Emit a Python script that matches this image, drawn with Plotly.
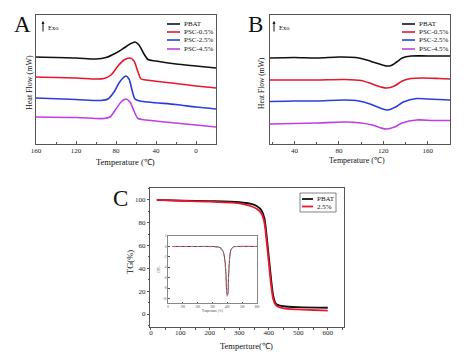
import plotly.graph_objects as go

W, H = 474, 358
FONT = "Liberation Serif"

# ---------------- Panel A : DSC cooling ----------------
a_pbat_T = [160, 120, 100, 90, 80, 72, 66, 61, 57, 52, 48, 40, 20, 0, -20]
a_pbat_v = [87, 86, 85, 86.5, 91, 96, 100, 102, 99, 90, 84.5, 83, 80, 78, 76]
a_05_T = [160, 120, 100, 92, 85, 78, 72, 66, 62, 58, 55, 50, 20, 0, -20]
a_05_v = [67, 66, 65, 65.5, 69, 78, 84, 86, 83, 72, 65, 64, 60.5, 58, 56]
a_25_T = [160, 120, 95, 88, 82, 77, 73, 70, 67, 64, 61, 56, 20, 0, -20]
a_25_v = [46, 44.5, 43.5, 45, 52, 61, 66, 68, 65, 54, 45, 43, 39.5, 37, 35]
a_45_T = [160, 120, 92, 86, 80, 75, 70, 66, 62, 58, 50, 20, 0, -20]
a_45_v = [27, 26.5, 25.5, 27, 35, 42, 45, 42, 33, 25.5, 24, 21, 19, 17]

# ---------------- Panel B : DSC heating ----------------
b_pbat_T = [18, 40, 60, 80, 95, 105, 115, 123, 127, 132, 137, 145, 160, 180]
b_pbat_v = [86, 86.5, 86, 87, 86.5, 84, 80.5, 78, 78.5, 82, 86, 88, 88, 88]
b_05_T = [18, 40, 60, 85, 100, 110, 118, 123, 130, 137, 145, 155, 170, 180]
b_05_v = [64, 64, 64, 64.5, 63.5, 60, 57, 56, 58, 63, 65.5, 66, 65.5, 65]
b_25_T = [18, 40, 60, 85, 98, 108, 117, 124, 131, 138, 150, 160, 180]
b_25_v = [42.5, 43, 43, 44, 43, 40, 36, 34, 37, 42, 45.5, 45, 44]
b_45_T = [18, 40, 60, 85, 100, 110, 118, 123, 130, 137, 150, 165, 180]
b_45_v = [20, 20.5, 21, 22, 21, 19, 16, 15, 17, 21, 24, 23.5, 23.5]

# ---------------- Panel C : TG ----------------
c_pbat_T = [20, 100, 200, 300, 340, 360, 375, 385, 392, 400, 408, 415, 422, 430, 450, 500, 600]
c_pbat_v = [100, 99.5, 99, 98, 96.5, 94.5, 91, 84, 70, 50, 30, 16, 10, 8, 6.8, 6, 5.5]
c_25_T = [20, 100, 200, 300, 340, 360, 375, 385, 392, 400, 408, 415, 422, 430, 450, 500, 600]
c_25_v = [100, 99.3, 98.5, 97, 94.5, 92, 88, 80, 65, 45, 25, 13, 8.5, 6.5, 5, 4, 3]

# inset DTG
d_T = [30, 100, 200, 300, 340, 360, 375, 385, 392, 398, 402, 408, 415, 425, 440, 470, 600]
d_pbat = [0, 0, 0, 0, -0.1, -0.4, -1.2, -3, -6, -9.2, -9.2, -6, -2.5, -0.6, -0.1, 0, 0]
d_25 = [0, 0, 0, -0.05, -0.2, -0.6, -1.5, -3.5, -6.5, -9.5, -9.4, -5.8, -2.2, -0.5, -0.1, 0, 0]

BLACK, RED, BLUE, MAG = "#111111", "#e8162e", "#2b3fd8", "#c13ee6"
names4 = ["PBAT", "PSC-0.5%", "PSC-2.5%", "PSC-4.5%"]
cols4 = [BLACK, RED, BLUE, MAG]

fig = go.Figure()

def add(x, y, col, xa, ya, name, width=1.6, dash=None, shape="spline"):
    fig.add_trace(go.Scatter(x=x, y=y, mode="lines", name=name, xaxis=xa, yaxis=ya,
                             line=dict(color=col, width=width, shape=shape, smoothing=0.8,
                                       dash=dash), showlegend=False))

for (T, v), c, n in zip([(a_pbat_T, a_pbat_v), (a_05_T, a_05_v), (a_25_T, a_25_v), (a_45_T, a_45_v)], cols4, names4):
    add(T, v, c, "x", "y", n)
for (T, v), c, n in zip([(b_pbat_T, b_pbat_v), (b_05_T, b_05_v), (b_25_T, b_25_v), (b_45_T, b_45_v)], cols4, names4):
    add(T, v, c, "x2", "y2", n)
add(c_pbat_T, c_pbat_v, BLACK, "x3", "y3", "PBAT", 1.8)
add(c_25_T, c_25_v, RED, "x3", "y3", "2.5%", 1.8)
add(d_T, d_pbat, "#444444", "x4", "y4", "PBAT", 1.0)
add(d_T, d_25, "#e0607a", "x4", "y4", "2.5%", 1.0, dash="dot")

def px_x(p):
    return p / W

def px_y(p):
    return 1 - p / H

tickfont = dict(family=FONT, size=7, color="#222")
axcommon = dict(showline=True, linecolor="#555", linewidth=1, mirror=True,
                showgrid=False, zeroline=False, tickfont=tickfont, automargin=False,
                ticks="inside", ticklen=3, tickcolor="#555")

lay = dict(width=W, height=H, margin=dict(l=0, r=0, t=0, b=0, autoexpand=False),
           paper_bgcolor="white", plot_bgcolor="white", showlegend=False,
           font=dict(family=FONT, color="#222"))

lay["xaxis"] = dict(axcommon, domain=[px_x(36), px_x(216)], range=[160, -20],
                    tickvals=[160, 120, 80, 40, 0], anchor="y",
                    minor=dict(ticks="inside", ticklen=2, tickcolor="#555", dtick=20))
lay["yaxis"] = dict(axcommon, domain=[px_y(144), px_y(15)], range=[0, 129],
                    showticklabels=False, ticks="", anchor="x")
lay["xaxis2"] = dict(axcommon, domain=[px_x(270), px_x(450)], range=[18, 180],
                     tickvals=[40, 80, 120, 160], anchor="y2",
                     minor=dict(ticks="inside", ticklen=2, tickcolor="#555", dtick=20))
lay["yaxis2"] = dict(axcommon, domain=[px_y(144), px_y(15)], range=[0, 129],
                     showticklabels=False, ticks="", anchor="x2")
lay["xaxis3"] = dict(axcommon, domain=[px_x(150), px_x(344)], range=[-3, 655],
                     tickvals=[0, 100, 200, 300, 400, 500, 600], anchor="y3", ticks="outside",
                     ticklen=2, ticklabelstandoff=-3,
                     minor=dict(ticks="outside", ticklen=1.5, tickcolor="#555", dtick=50))
lay["yaxis3"] = dict(axcommon, domain=[px_y(327), px_y(188)], range=[-11.4, 110.5],
                     tickvals=[0, 20, 40, 60, 80, 100], anchor="x3", ticks="outside",
                     ticklen=2,
                     minor=dict(ticks="outside", ticklen=1.5, tickcolor="#555", dtick=10))
small = dict(family=FONT, size=3, color="#444")
lay["xaxis4"] = dict(axcommon, domain=[px_x(168), px_x(257)], range=[0, 600],
                     tickvals=[0, 100, 200, 300, 400, 500, 600], anchor="y4",
                     tickfont=small, ticklen=1.5, linecolor="#888",
                     title=dict(text="Temperature (℃)", font=small, standoff=1))
lay["yaxis4"] = dict(axcommon, domain=[px_y(303), px_y(236)], range=[-10.8, 2],
                     tickvals=[2, 0, -2, -4, -6, -8, -10], anchor="x4",
                     tickfont=small, ticklen=1.5, linecolor="#888",
                     title=dict(text="DTG", font=small, standoff=1))

fig.update_layout(**lay)

ann = []
shapes = []

def text(x, y, s, size=8, xanchor="center", yanchor="middle", angle=0):
    ann.append(dict(x=px_x(x), y=px_y(y), xref="paper", yref="paper", text=s,
                    showarrow=False, xanchor=xanchor, yanchor=yanchor, textangle=angle,
                    font=dict(family=FONT, size=size, color="#111")))

# panel letters
text(22, 24, "A", 23)
text(256, 24, "B", 23)
text(120, 198, "C", 23)

# Exo arrows
for x0 in (43, 274):
    ann.append(dict(x=px_x(x0), y=px_y(21), ax=0, ay=12, xref="paper", yref="paper",
                    axref="pixel", ayref="pixel", showarrow=True, arrowhead=2, arrowsize=0.6,
                    arrowwidth=1, arrowcolor="#111", text=""))
    text(x0 + 3, 27, "Exo", 6.5, xanchor="left")

# axis titles
text(29, 83, "Heat Flow (mW)", 8, angle=-90)
text(126, 162, "Temperature (℃)", 8.5)
text(261, 83, "Heat Flow (mW)", 7.5, angle=-90)
text(357, 160, "Temperature (℃)", 8)
text(130, 262, "TG(%)", 8.5, angle=-90)
text(247, 346, "Temperture(℃)", 8.5)

# legends A and B (manual)
leg_y = [24, 32, 40, 49]
for base in (167, 402):
    for yy, c, n in zip(leg_y, cols4, names4):
        shapes.append(dict(type="line", xref="paper", yref="paper",
                           x0=px_x(base), x1=px_x(base + 13), y0=px_y(yy), y1=px_y(yy),
                           line=dict(color=c, width=1.6)))
        text(base + 15, yy, n, 7, xanchor="left")

# legend C with box
shapes.append(dict(type="rect", xref="paper", yref="paper", x0=px_x(300), x1=px_x(336),
                   y0=px_y(212), y1=px_y(193), line=dict(color="#666", width=0.8)))
for yy, c, n in zip([199, 206.5], [BLACK, RED], ["PBAT", "2.5%"]):
    shapes.append(dict(type="line", xref="paper", yref="paper",
                       x0=px_x(302), x1=px_x(313), y0=px_y(yy), y1=px_y(yy),
                       line=dict(color=c, width=1.8)))
    text(315, yy, n, 7, xanchor="left")

fig.update_layout(annotations=ann, shapes=shapes)
fig.write_html("out.html", config={"displayModeBar": False},
               post_script="document.body.style.margin='0';document.body.style.overflow='hidden';")
